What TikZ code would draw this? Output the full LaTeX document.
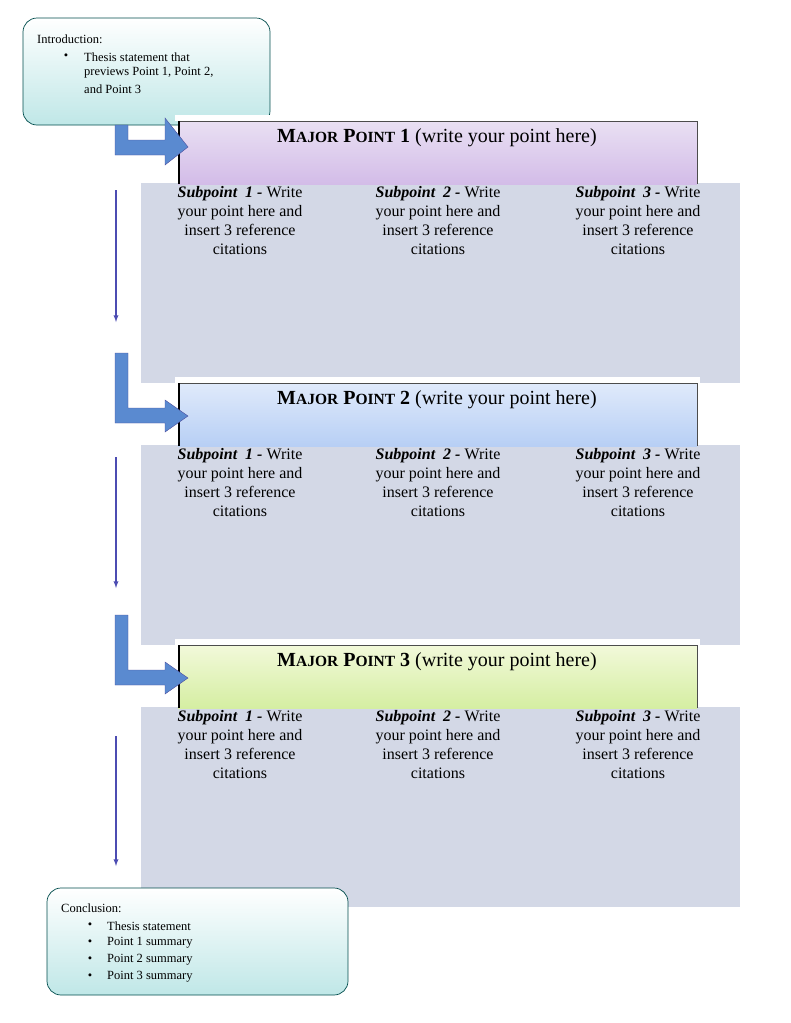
\documentclass[tikz,border=0pt]{standalone}
\usepackage{fontspec}
\setmainfont{Liberation Serif}
\begin{document}
\begin{tikzpicture}[x=1pt,y=-1pt,
  small/.style={font=\fontsize{12.5}{15}\selectfont,anchor=west,inner sep=0},
  sub/.style={font=\fontsize{16}{19}\selectfont,align=center,anchor=north,inner sep=0},
  bullet/.style={font=\fontsize{12.5}{15}\selectfont,inner sep=0},
  thin/.style={draw=blue!40!gray,line width=1.3pt,-latex},
  bent/.style={fill=blue!55!cyan!70!black!80,draw=blue!50!black!60,line width=0.4pt}]
\useasboundingbox (0,0) rectangle (791,1023);
\definecolor{greyb}{HTML}{D3D8E6}
\definecolor{bentc}{HTML}{5A8AD0}
% intro
\shade[top color=white,bottom color=cyan!25!teal!25,draw=teal!60!black,rounded corners=14pt,line width=0.7pt] (23,18) rectangle (270,125);
\coordinate (introbox) at (23,18);
\node[small] (i1) at (37,39) {Introduction:};
\node[bullet] (ib) at (66,57) {•};
\node[small] (i2) at (84,57) {Thesis statement that};
\node[small] (i3) at (84,73) {previews Point 1, Point 2,};
\node[small] (i4) at (84,89) {and Point 3};
% sections
\foreach \k/\y/\tc/\bc in {1/121/E9E0F3/D3BCE8, 2/383/E0EAFB/B7CFF5, 3/645/F2F9DA/D5EEA2}{
  \definecolor{tcol}{HTML}{\tc}\definecolor{bcol}{HTML}{\bc}
  \fill[greyb] (141,\y+62) rectangle (740,\y+262);
  \fill[white] (175,\y-6) rectangle (700,\y);
  \shade[top color=tcol,bottom color=bcol] (178,\y) rectangle (697,\y+63);
  \draw[black!70,line width=0.8pt] (178,\y) -- (697,\y) -- (697,\y+63);
  \draw[black,line width=2.2pt] (179,\y) -- (179,\y+63);
  \node[font=\fontsize{20}{24}\selectfont,inner sep=0] (m\k) at (437,\y+17) {\textbf{M{\fontsize{15.5}{18}\selectfont AJOR} P{\fontsize{15.5}{18}\selectfont OINT} \k} (write your point here)};
  \foreach \c/\x in {1/240,2/438,3/638}{
    \node[sub] (s\k\c) at (\x,\y+65) {\textbf{\textit{Subpoint~ \c\ -}} Write\\your point here and\\insert 3 reference\\citations};
  }
}
% bent arrows
\fill[bentc,draw=blue!45!black!70] (115,125) -- (128,125) -- (128,140) -- (165,140) -- (165,118) -- (188,147) -- (165,165) -- (165,155) -- (115,155) -- cycle;
\foreach \d in {0,262}{
\fill[bentc,draw=blue!45!black!70] (115,353+\d) -- (128,353+\d) -- (128,408+\d) -- (165,408+\d) -- (165,400+\d) -- (188,416+\d) -- (165,432+\d) -- (165,423+\d) -- (115,423+\d) -- cycle;
}
% thin arrows
\coordinate (a1) at (116,190); \coordinate (b1) at (116,322);
\coordinate (a2) at (116,457); \coordinate (b2) at (116,588);
\coordinate (a3) at (116,736); \coordinate (b3) at (116,866);
\draw[thin] (a1) -- (b1); \draw[thin] (a2) -- (b2); \draw[thin] (a3) -- (b3);
% conclusion
\shade[top color=white,bottom color=cyan!25!teal!25,draw=teal!60!black,rounded corners=14pt,line width=0.7pt] (47,888) rectangle (348,995);
\node[small] (c0) at (61,908) {Conclusion:};
\foreach \t/\yy [count=\n] in {Thesis statement/926, Point 1 summary/943, Point 2 summary/960, Point 3 summary/977}{
  \node[bullet] (cb\n) at (90,\yy) {•};
  \node[small] (c\n) at (107,\yy) {\t};
}
\end{tikzpicture}
\end{document}
